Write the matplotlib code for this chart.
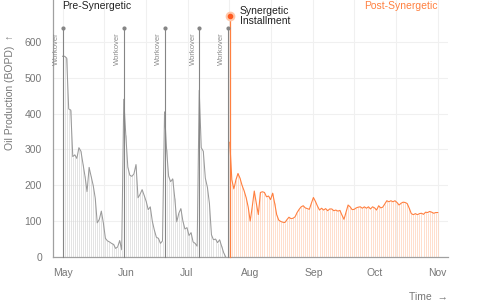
import numpy as np
import matplotlib.pyplot as plt

plt.rcParams['font.family'] = ['Liberation Sans', 'DejaVu Sans']

# days counted from May 1
month_days = [0, 31, 61, 92, 123, 153, 184]
month_labels = ['May', 'Jun', 'Jul', 'Aug', 'Sep', 'Oct', 'Nov']

workover_days = [0, 30, 50, 67, 81]
synergetic_day = 82

# pre-synergetic production, day 0 .. day 80
pre_values = [
    560, 560, 555, 413, 410, 280, 285, 275, 305, 295,
    260, 225, 182, 250, 225, 200, 165, 95, 105, 128,
    95, 52, 45, 42, 38, 35, 24, 28, 46, 20,
    440, 340, 250, 228, 225, 232, 258, 165, 175, 188,
    172, 155, 132, 140, 100, 75, 55, 52, 38, 45,
    405, 300, 225, 210, 218, 165, 98, 122, 135, 100,
    78, 82, 60, 68, 42, 38, 30,
    465, 305, 295, 220, 195, 150, 62, 48, 50, 40,
    48, 30, 12, 0,
]

# post-synergetic production, day 82 .. day 184
post_values = [
    320, 215, 190, 215, 233, 220, 200, 185, 166, 140,
    100, 140, 184, 150, 118, 180, 182, 180, 168, 170,
    160, 178, 150, 118, 103, 99, 97, 96, 104, 111,
    107, 108, 112, 124, 133, 140, 143, 137, 135, 133,
    150, 166, 155, 142, 131, 136, 131, 135, 129, 134,
    134, 129, 131, 128, 130, 117, 105, 125, 145, 140,
    132, 133, 137, 139, 140, 136, 140, 136, 140, 134,
    140, 137, 131, 143, 137, 139, 148, 157, 154, 157,
    154, 157, 152, 145, 150, 153, 152, 149, 136, 121,
    118, 121, 118, 121, 122, 119, 125, 124, 127, 125,
    122, 124, 124,
]

pre_days = np.arange(len(pre_values))
post_days = np.arange(synergetic_day, synergetic_day + len(post_values))

gray_line = '#9a9a9a'
gray_stem = '#d8d8d8'
orange = '#ff8040'
orange_stem = '#ffd2ba'

fig = plt.figure(figsize=(5, 3.04), dpi=100)
ax = fig.add_axes([53 / 500, 47 / 304, 395 / 500, 257 / 304])

# light grid
for g in np.linspace(0, 184, 10):
    ax.axvline(g, color='#f0f0f0', linewidth=0.8, zorder=0)
for v in range(100, 700, 100):
    ax.axhline(v, color='#f0f0f0', linewidth=0.8, zorder=0)

ax.vlines(pre_days, 0, pre_values, color=gray_stem, linewidth=0.5, zorder=1)
ax.plot(pre_days, pre_values, color=gray_line, linewidth=0.75, zorder=2)

ax.vlines(post_days, 0, post_values, color=orange_stem, linewidth=0.5, zorder=1)
ax.plot(post_days, post_values, color=orange, linewidth=0.8, zorder=2)

# workover markers
for d in workover_days:
    ax.plot([d, d], [0, 638], color='#858585', linewidth=0.8, zorder=3,
            clip_on=False)
    ax.plot(d, 638, 'o', color='#858585', markersize=2, zorder=4,
            clip_on=False)
    ax.text(d - 1.2, 628, 'Workover', rotation=90, ha='right', va='top',
            fontsize=5.5, color='#8a8a8a')

# synergetic installment marker
ax.plot([synergetic_day, synergetic_day], [0, 672], color=orange,
        linewidth=0.9, zorder=3, clip_on=False)
ax.plot(synergetic_day, 672, 'o', color='#ffc8ab', markersize=6, zorder=4,
        clip_on=False)
ax.plot(synergetic_day, 672, 'o', color='#ff5a1f', markersize=3, zorder=5,
        clip_on=False)
ax.text(synergetic_day + 5, 672, 'Synergetic\nInstallment', ha='left',
        va='center', fontsize=7.5, color='#222222', linespacing=1.05)

ax.text(0, 700, 'Pre-Synergetic', ha='left', va='center', fontsize=7.5,
        color='#222222')
ax.text(184, 700, 'Post-Synergetic', ha='right', va='center', fontsize=7.5,
        color=orange)

ax.set_xlim(-4.7, 189)
ax.set_ylim(0, 717)
ax.set_xticks(month_days)
ax.set_xticklabels(month_labels)
ax.set_yticks(range(0, 700, 100))
ax.tick_params(length=0, labelsize=7.5, labelcolor='#777777', pad=8)

for side in ['top', 'right']:
    ax.spines[side].set_visible(False)
for side in ['left', 'bottom']:
    ax.spines[side].set_color('#a0a0a0')
    ax.spines[side].set_linewidth(0.9)

fig.text(10 / 500, 1 - 35 / 304, 'Oil Production (BOPD)  \u2191', rotation=90,
         ha='center', va='top', fontsize=7.5, color='#777777')
fig.text(448 / 500, 1 - 297 / 304, 'Time  \u2192', ha='right', va='center',
         fontsize=7.5, color='#777777')

fig.savefig('out.png', dpi=100)
